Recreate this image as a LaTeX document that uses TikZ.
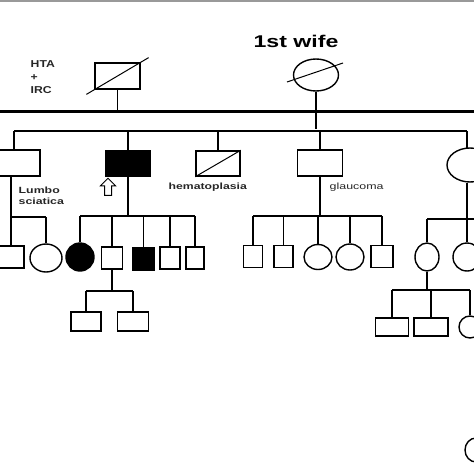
\documentclass[tikz,border=0pt]{standalone}
\usepackage{graphicx}
\usepackage{fontspec}
\setsansfont{Liberation Sans}
\usetikzlibrary{positioning, calc, shapes.geometric, shapes.arrows}

\newcommand{\wtext}[2]{\scalebox{#1}[1]{#2}}

\begin{document}
\begin{tikzpicture}[
        x=1pt, y=-1pt,
        line width=1.4pt,
        male/.style={draw, rectangle, inner sep=0pt},
        female/.style={draw, ellipse, inner sep=0pt},
        affected/.style={fill=black},
        deceased/.style={line width=1pt},
        mating/.style={line width=3pt},
        lbl/.style={font=\sffamily\bfseries\fontsize{9}{11}\selectfont, inner sep=0pt, align=left, text=black!85},
    ]
    \useasboundingbox (0,0) rectangle (474,474);
    \fill[black!40] (0,0) rectangle (474,2);

    % Draw the first generation
    \node[male, minimum width=45, minimum height=26] (I-1) at (117.5,76) {};
    \node[female, minimum width=45, minimum height=32] (I-2) at (316,75) {};
    \draw[deceased] ($(I-1.south west)!-0.17!(I-1.north east)$) -- ($(I-1.south west)!1.17!(I-1.north east)$);
    \draw[deceased] ($(I-2.center)+(-29,7)$) -- ($(I-2.center)+(27,-12)$);
    \node[lbl, font=\sffamily\bfseries\fontsize{10}{12.7}\selectfont, anchor=west] (hta) at (30,77)
        {\wtext{1.22}{HTA}\\\wtext{1.22}{+}\\\wtext{1.22}{IRC}};
    \node[lbl, font=\sffamily\bfseries\fontsize{17}{19}\selectfont, text=black] (wife) at (296,41) {\wtext{1.36}{1st wife}};

    % Mating line and sibship of the second generation
    \coordinate (mate-l) at (-5,111);
    \coordinate (mate-r) at (480,111);
    \coordinate (sibI) at (0,131);
    \draw[mating] (mate-l) -- (mate-r);
    \draw (I-1.south) -- (I-1.south |- mate-l);
    \draw (I-2.south) -- ($(I-2.south |- sibI)+(0,-2)$);

    % Draw the second generation
    \node[male, minimum width=52, minimum height=26] (II-1) at (14,163) {};
    \node[male, affected, minimum width=44, minimum height=25] (II-2) at (128,163.5) {};
    \node[male, minimum width=44, minimum height=25] (II-3) at (218,163.5) {};
    \node[male, minimum width=45, minimum height=26] (II-4) at (320,163) {};
    \node[female, minimum width=46, minimum height=34] (II-5) at (470,165) {};
    \draw[deceased] (II-3.south west) -- (II-3.north east);
    \draw (II-1.north |- sibI) -- (467,131);
    \foreach \name in {1,...,4}
        \draw (II-\name.north) -- (II-\name.north |- sibI);
    \draw (467,148.5) -- (467,131);

    \node[single arrow, draw, fill=white, line width=1pt, shape border rotate=90, minimum height=17pt,
          minimum width=15pt, inner sep=3pt, single arrow head extend=4pt] (proband) at (108,188.5) {};
    \node[lbl, anchor=west] (lumbo) at (18,196) {\wtext{1.37}{Lumbo}\\\wtext{1.37}{sciatica}};
    \node[lbl, anchor=west] (hemato) at (168,187) {\wtext{1.36}{hematoplasia}};
    \node[lbl, anchor=west, font=\sffamily\fontsize{9}{11}\selectfont] (glauc) at (329,187) {\wtext{1.38}{glaucoma}};

    % Draw the third generation
    \coordinate (sibA) at (0,217);
    \coordinate (sibB) at (0,216);
    \coordinate (sibC) at (0,216);
    \coordinate (sibD) at (0,219);

    \node[male, minimum width=26, minimum height=22] (III-1) at (11,257) {};
    \node[female, minimum width=32, minimum height=28] (III-2) at (46,258) {};

    \node[female, affected, minimum width=28, minimum height=28] (III-3) at (80,257) {};
    \foreach \name/\x/\w in {4/112/21, 6/170/20, 7/195/18}
        \node[male, minimum width=\w, minimum height=22] (III-\name) at (\x,258) {};
    \node[male, affected, minimum width=21, minimum height=22] (III-5) at (143.5,259) {};

    \foreach \name/\x/\w in {8/253/19, 9/283.5/19, 12/382/22}
        \node[male, minimum width=\w, minimum height=22] (III-\name) at (\x,256.5) {};
    \node[female, minimum width=28, minimum height=25] (III-10) at (318,257) {};
    \node[female, minimum width=28, minimum height=26] (III-11) at (350,257) {};

    \node[female, minimum width=24, minimum height=28] (III-13) at (427,257) {};
    \node[female, minimum width=28, minimum height=28] (III-14) at (467,257) {};

    % Connect the third generation to their parents
    \draw (II-1.south -| III-1.north) -- (III-1.north |- sibA);
    \draw (III-1.north |- sibA) -- (III-2.north |- sibA);
    \foreach \name in {1,2}
        \draw (III-\name.north) -- (III-\name.north |- sibA);

    \draw (II-2.south) -- (II-2.south |- sibB);
    \draw (III-3.north |- sibB) -- (III-7.north |- sibB);
    \foreach \name in {3,...,7}
        \draw (III-\name.north) -- (III-\name.north |- sibB);

    \draw (II-4.south) -- (II-4.south |- sibC);
    \draw (III-8.north |- sibC) -- (III-12.north |- sibC);
    \foreach \name in {8,...,12}
        \draw (III-\name.north) -- (III-\name.north |- sibC);

    \draw (II-5.south -| 467,0) -- (467,219);
    \draw (III-13.north |- sibD) -- (480,219);
    \foreach \name in {13,14}
        \draw (III-\name.north) -- (III-\name.north |- sibD);

    % Draw the fourth generation
    \coordinate (sibE) at (0,291);
    \coordinate (sibF) at (0,290);
    \node[male, minimum width=30, minimum height=19] (IV-1) at (86,321.5) {};
    \node[male, minimum width=31, minimum height=19] (IV-2) at (133,321.5) {};
    \node[male, minimum width=33, minimum height=18] (IV-3) at (392,327) {};
    \node[male, minimum width=34, minimum height=18] (IV-4) at (431,327) {};
    \node[female, minimum width=22, minimum height=22] (IV-5) at (470,327) {};

    \draw (III-4.south) -- (III-4.south |- sibE);
    \draw (IV-1.north |- sibE) -- (IV-2.north |- sibE);
    \foreach \name in {1,2}
        \draw (IV-\name.north) -- (IV-\name.north |- sibE);

    \draw (III-13.south) -- (III-13.south |- sibF);
    \draw (IV-3.north |- sibF) -- (IV-5.north |- sibF);
    \foreach \name in {3,4,5}
        \draw (IV-\name.north) -- (IV-\name.north |- sibF);

    \node[female, minimum width=22, minimum height=24] (V-1) at (476,450) {};
\end{tikzpicture}
\end{document}
